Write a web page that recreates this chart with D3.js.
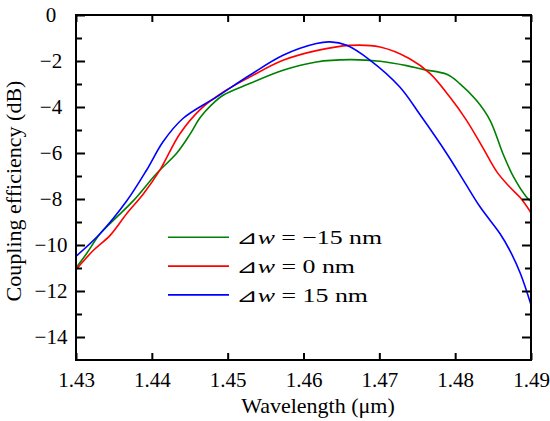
<!DOCTYPE html>
<html>
<head>
<meta charset="utf-8">
<script src="https://cdn.jsdelivr.net/npm/d3@7"></script>
<style>
  body { margin: 0; background: #fff; }
  svg { display: block; }
  .axis text { font-family: "Liberation Serif", "Times New Roman", serif; font-size: 21px; fill: #000; }
  .axis line { stroke: #000; stroke-width: 2px; }
  .title { font-family: "Liberation Serif", "Times New Roman", serif; font-size: 22px; fill: #000; }
  .legend text { font-family: "Liberation Serif", "Times New Roman", serif; font-size: 19px; fill: #000; }
</style>
</head>
<body>
<div id="chart"></div>
<script>
// wavelength (um) and coupling efficiency (dB)
const wlGreen = [1.4300, 1.4314, 1.4332, 1.4354, 1.4376, 1.4406, 1.4433, 1.4450, 1.4464, 1.4479, 1.4494, 1.4529, 1.4573, 1.4617, 1.4661, 1.4701, 1.4736, 1.4758, 1.4789, 1.4806, 1.4828, 1.4846, 1.4863, 1.4877, 1.4894, 1.4900];
const dbGreen = [-11.0, -10.37, -9.5, -8.78, -8.06, -6.9, -6.0, -5.2, -4.45, -3.9, -3.49, -2.98, -2.40, -2.04, -1.94, -2.01, -2.2, -2.37, -2.58, -2.98, -3.71, -4.58, -6.03, -7.04, -7.91, -8.1];

const wlRed = [1.4300, 1.4323, 1.4345, 1.4367, 1.4389, 1.4411, 1.4437, 1.4464, 1.4494, 1.4529, 1.4573, 1.4617, 1.4661, 1.4701, 1.4740, 1.4767, 1.4793, 1.4815, 1.4837, 1.4855, 1.4872, 1.4886, 1.4900];
const dbRed = [-11.07, -10.23, -9.58, -8.63, -7.77, -6.72, -5.16, -4.1, -3.35, -2.7, -1.97, -1.55, -1.32, -1.39, -1.9, -2.55, -3.57, -4.58, -5.8, -6.82, -7.48, -7.95, -8.6];

const wlBlue = [1.4300, 1.4332, 1.4367, 1.4393, 1.4415, 1.4441, 1.4486, 1.4529, 1.4573, 1.4617, 1.4635, 1.4657, 1.4688, 1.4727, 1.4754, 1.4789, 1.4811, 1.4833, 1.4859, 1.4872, 1.4886, 1.4900];
const dbBlue = [-10.49, -9.5, -8.08, -6.75, -5.5, -4.5, -3.55, -2.62, -1.75, -1.24, -1.17, -1.32, -1.97, -3.13, -4.35, -6.03, -7.19, -8.35, -9.5, -10.23, -11.24, -12.6];

const seriesNames = ["\u221215", "0", "15"];
const seriesColors = ["#008000", "#ff0000", "#0000ff"];

const xTicks = [1.43, 1.44, 1.45, 1.46, 1.47, 1.48, 1.49];
const yTicks = [0, -2, -4, -6, -8, -10, -12, -14];
const yMinor = [-1, -3, -5, -7, -9, -11, -13];

const width = 550, height = 421;
const margin = { left: 76, right: 19, top: 15, bottom: 61 };

const svg = d3.select("#chart").append("svg")
  .attr("width", width)
  .attr("height", height);

const x = d3.scaleLinear().domain([1.43, 1.49]).range([margin.left, width - margin.right]);
const y = d3.scaleLinear().domain([-15, 0]).range([height - margin.bottom, margin.top]);

const series = [
  { wl: wlGreen, db: dbGreen },
  { wl: wlRed, db: dbRed },
  { wl: wlBlue, db: dbBlue }
];

// curves
const line = d3.line()
  .x(d => x(d[0]))
  .y(d => y(d[1]))
  .curve(d3.curveCatmullRom.alpha(0.5));

const plot = svg.append("g");
series.forEach((s, i) => {
  plot.append("path")
    .datum(s.wl.map((w, k) => [w, s.db[k]]))
    .attr("fill", "none")
    .attr("stroke", seriesColors[i])
    .attr("stroke-width", 1.6)
    .attr("d", line);
});

// axes, ticks pointing inward
const bottom = svg.append("g").attr("class", "axis")
  .attr("transform", `translate(0,${y(-15)})`)
  .call(d3.axisBottom(x).tickValues(xTicks).tickSize(-7).tickPadding(12).tickFormat(d3.format(".2f")));
bottom.selectAll("text").attr("dy", "0.71em");

svg.append("g").attr("class", "axis")
  .attr("transform", `translate(0,${y(0)})`)
  .call(d3.axisTop(x).tickValues(xTicks).tickSize(-7).tickFormat(""));

const left = svg.append("g").attr("class", "axis")
  .attr("transform", `translate(${x(1.43)},0)`)
  .call(d3.axisLeft(y).tickValues(yTicks).tickSize(-9).tickFormat(d3.format("d")));
left.selectAll("text").attr("text-anchor", "middle").attr("x", -25);

svg.append("g").attr("class", "axis")
  .attr("transform", `translate(${x(1.43)},0)`)
  .call(d3.axisLeft(y).tickValues(yMinor).tickSize(-6).tickFormat(""));

svg.append("g").attr("class", "axis")
  .attr("transform", `translate(${x(1.49)},0)`)
  .call(d3.axisRight(y).tickValues(yTicks).tickSize(-9).tickFormat(""));

svg.append("g").attr("class", "axis")
  .attr("transform", `translate(${x(1.49)},0)`)
  .call(d3.axisRight(y).tickValues(yMinor).tickSize(-6).tickFormat(""));

svg.selectAll(".axis .domain").remove();

// frame
svg.append("rect")
  .attr("x", x(1.43))
  .attr("y", y(0))
  .attr("width", x(1.49) - x(1.43))
  .attr("height", y(-15) - y(0))
  .attr("fill", "none")
  .attr("stroke", "#000")
  .attr("stroke-width", 2);

// axis titles
svg.append("text")
  .attr("class", "title")
  .attr("x", 318)
  .attr("y", 413)
  .attr("text-anchor", "middle")
  .text("Wavelength (\u03bcm)");

svg.append("text")
  .attr("class", "title")
  .attr("transform", "translate(21,191) rotate(-90)")
  .attr("text-anchor", "middle")
  .text("Coupling efficiency (dB)");

// legend
const legendWidths = [146, 119, 132];
const legend = svg.append("g").attr("class", "legend");
seriesNames.forEach((name, i) => {
  const ly = 237.3 + i * 28.8;
  legend.append("line")
    .attr("x1", 168).attr("x2", 229)
    .attr("y1", ly).attr("y2", ly)
    .attr("stroke", seriesColors[i])
    .attr("stroke-width", 1.6);
  const t = legend.append("text")
    .attr("x", 236)
    .attr("y", ly + 7)
    .attr("textLength", legendWidths[i])
    .attr("lengthAdjust", "spacingAndGlyphs");
  t.append("tspan").text("\u22bf");
  t.append("tspan").attr("font-style", "italic").text("w");
  t.append("tspan").text(` = ${name} nm`);
});
</script>
</body>
</html>
